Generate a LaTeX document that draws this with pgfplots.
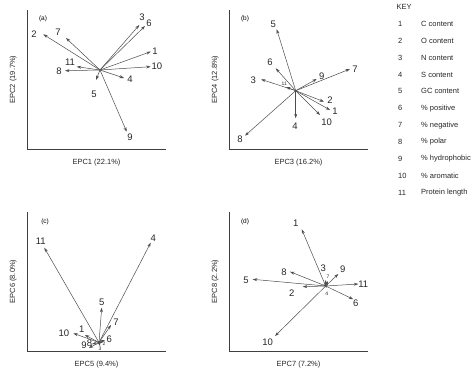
\documentclass[border=0pt]{standalone}
\usepackage{fontspec}
\setmainfont{Liberation Sans}
\usepackage{pgfplots}
\pgfplotsset{compat=1.18}
\usepackage{pgfplotstable}
\usetikzlibrary{arrows.meta}

% panel (a): EPC1 vs EPC2
\pgfplotstableread{
id cx cy tx ty lx ly
1 73 79 123.7 97.3 128 98
2 73 79 16.3 114.7 7 115
3 73 79 112.3 124 115 132
4 73 79 97 71 103 70
5 73 79 69 69 67 55
6 73 79 118 123 122 126
7 73 79 39 111 31 117
8 73 79 38 78.3 32 78
9 73 79 99.7 17.3 103 12
10 73 79 123.7 82.3 130 83
11 73 79 49.7 82.3 43 87
}\tabA
% panel (b): EPC3 vs EPC4
\pgfplotstableread{
id cx cy tx ty lx ly
1 66.7 58.3 101 39 106 38
2 66.7 58.3 95 47.3 101 49
3 66.7 58.3 32 69.7 24.3 69
4 66.7 58.3 66.7 30.7 66 23
5 66.7 58.3 47.7 119.7 44.3 125
6 66.7 58.3 46.7 80.7 41 86.7
7 66.7 58.3 121 80 126 80
8 66.7 58.3 16 13.3 11 9.7
9 66.7 58.3 87.7 70 92.7 73
10 66.7 58.3 91 34 97.7 26.3
}\tabB
\pgfplotstableread{
id cx cy tx ty lx ly
11 66.7 58.3 57 62 55.3 65.7
}\tabBs
% panel (c): EPC5 vs EPC6
\pgfplotstableread{
id cx cy tx ty lx ly
1 72 8.5 58 16 54.7 21.7
4 72 8.5 123.7 108.3 126.3 112.7
5 72 8.5 74.7 43.3 74.7 49
6 72 8.5 78 11 82.3 11.7
7 72 8.5 84 26 89 28.3
8 72 8.5 65 7 62.5 7.5
9 72 8.5 62 3 57 5.3
10 72 8.5 46.3 17.7 37 17.7
11 72 8.5 17.3 103.3 13.7 110
}\tabC
\pgfplotstableread{
id cx cy tx ty lx ly
2 72 8.5 76 9 77 7.7
3 72 8.5 73 5 73 2.7
}\tabCs
% panel (d): EPC7 vs EPC8
\pgfplotstableread{
id cx cy tx ty lx ly
1 96.7 65 72.7 121.7 66.7 127.7
2 96.7 65 73.7 64.3 62.7 58.3
3 96.7 65 96.7 71 94.3 82.7
5 96.7 65 23.7 71.7 17 71
6 96.7 65 124.3 51.7 126.7 47.7
8 96.7 65 61 79.3 55 78.3
9 96.7 65 109.3 77 113.7 81.7
10 96.7 65 46 15 38.7 8.3
11 96.7 65 129.3 67 134.3 66.7
}\tabD
\pgfplotstableread{
id cx cy tx ty lx ly
4 96.7 65 97.5 63 97.7 57.7
7 96.7 65 99 70 99 74
}\tabDs

\pgfplotsset{
  panel/.style={
    width=139pt, height=139pt, scale only axis,
    xmin=0, xmax=139, ymin=0, ymax=139,
    axis lines=left,
    axis line style={-, black!75, line width=0.6pt},
    ticks=none, clip=false,
    xlabel style={at={(axis description cs:0.5,-0.1)}, anchor=center,
      font=\fontsize{7.5}{9}\selectfont, text=black!85},
    ylabel style={at={(axis description cs:-0.1,0.5)}, anchor=center,
      font=\fontsize{7.5}{9}\selectfont, text=black!85},
  },
  vec/.style={
    quiver={u=\thisrow{tx}-\thisrow{cx}, v=\thisrow{ty}-\thisrow{cy}},
    -{Stealth[length=4.5pt,width=3pt]}, line width=0.5pt, black!70,
  },
  lab/.style={
    only marks, mark=none, nodes near coords, point meta=explicit symbolic,
    nodes near coords style={anchor=center, inner sep=0pt,
      font=\fontsize{9.5}{11}\selectfont, text=black!85},
  },
  slab/.style={
    only marks, mark=none, nodes near coords, point meta=explicit symbolic,
    nodes near coords style={anchor=center, inner sep=0pt,
      font=\fontsize{5}{6}\selectfont, text=black!85},
  },
}

\begin{document}
\begin{tikzpicture}[x=1pt,y=1pt]
\path[use as bounding box] (0,0) rectangle (474,-372);

\begin{axis}[panel, at={(27pt,-149pt)}, anchor=south west,
  xlabel={EPC1 (22.1\%)}, ylabel={EPC2 (19.7\%)}]
  \addplot[vec] table[x=cx,y=cy] {\tabA};
  \addplot[lab] table[x=lx,y=ly,meta=id] {\tabA};
  \node[font=\fontsize{6.5}{8}\selectfont] at (rel axis cs:0.115,0.935) {(a)};
\end{axis}

\begin{axis}[panel, at={(229pt,-149pt)}, anchor=south west,
  xlabel={EPC3 (16.2\%)}, ylabel={EPC4 (12.8\%)}]
  \addplot[vec] table[x=cx,y=cy] {\tabB};
  \addplot[vec] table[x=cx,y=cy] {\tabBs};
  \addplot[lab] table[x=lx,y=ly,meta=id] {\tabB};
  \addplot[slab] table[x=lx,y=ly,meta=id] {\tabBs};
  \node[font=\fontsize{6.5}{8}\selectfont] at (rel axis cs:0.115,0.935) {(b)};
\end{axis}

\begin{axis}[panel, at={(27pt,-351pt)}, anchor=south west,
  xlabel={EPC5 (9.4\%)}, ylabel={EPC6 (8.0\%)}]
  \addplot[vec] table[x=cx,y=cy] {\tabC};
  \addplot[vec] table[x=cx,y=cy] {\tabCs};
  \addplot[lab] table[x=lx,y=ly,meta=id] {\tabC};
  \addplot[slab] table[x=lx,y=ly,meta=id] {\tabCs};
  \node[font=\fontsize{6.5}{8}\selectfont] at (rel axis cs:0.13,0.928) {(c)};
\end{axis}

\begin{axis}[panel, at={(229pt,-351pt)}, anchor=south west,
  xlabel={EPC7 (7.2\%)}, ylabel={EPC8 (2.2\%)}]
  \addplot[vec] table[x=cx,y=cy] {\tabD};
  \addplot[vec] table[x=cx,y=cy] {\tabDs};
  \addplot[lab] table[x=lx,y=ly,meta=id] {\tabD};
  \addplot[slab] table[x=lx,y=ly,meta=id] {\tabDs};
  \node[font=\fontsize{6.5}{8}\selectfont] at (rel axis cs:0.115,0.928) {(d)};
\end{axis}

% key
\begin{scope}[every node/.style={anchor=west, inner sep=0pt, font=\fontsize{7.5}{9}\selectfont, text=black!85}]
\node at (396.5,-6.5) {KEY};
\node at (398,-24.0) {1};   \node at (421,-24.0) {C content};
\node at (398,-40.85) {2};  \node at (421,-40.85) {O content};
\node at (398,-57.7) {3};   \node at (421,-57.7) {N content};
\node at (398,-74.55) {4};  \node at (421,-74.55) {S content};
\node at (398,-91.4) {5};   \node at (421,-91.4) {GC content};
\node at (398,-108.25) {6}; \node at (421,-108.25) {\% positive};
\node at (398,-125.1) {7};  \node at (421,-125.1) {\% negative};
\node at (398,-141.95) {8}; \node at (421,-141.95) {\% polar};
\node at (398,-158.8) {9};  \node at (421,-158.8) {\% hydrophobic};
\node at (398,-175.65) {10};\node at (421,-175.65) {\% aromatic};
\node at (398,-192.5) {11}; \node at (421,-192.5) {Protein length};
\end{scope}
\end{tikzpicture}
\end{document}
